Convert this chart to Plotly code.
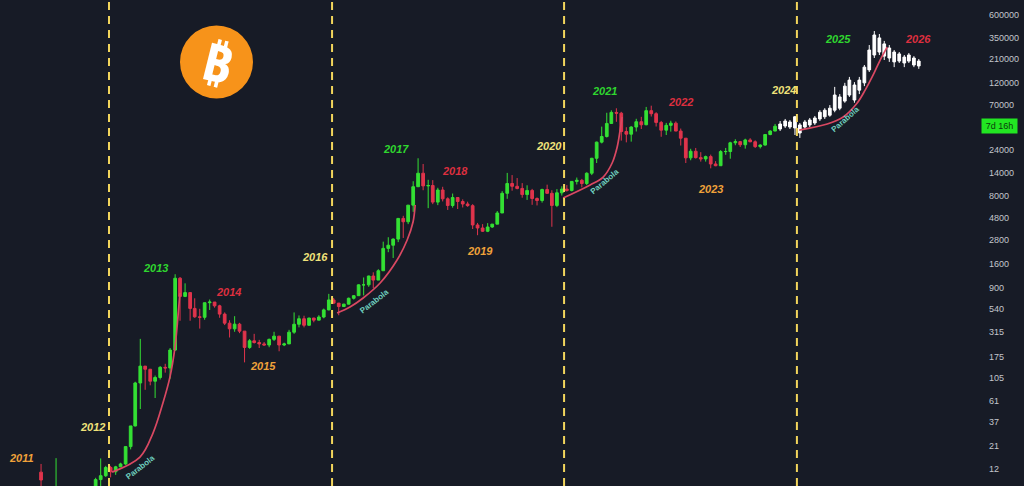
import numpy as np
import pandas as pd
import plotly.graph_objects as go

# ---------------- data ----------------
# sparse early candles (2011)
early_dates = ["2011-08-15", "2011-11-15"]
early_open = [11.1, 5.0]
early_high = [13.5, 15.5]
early_low = [7.0, 4.0]
early_close = [9.2, 7.0]

# monthly candles from 2012-06 to 2023-12
monthly_start = "2012-06-01"
open_ = [
    5.3, 6.7, 9.3, 10.2, 12.4, 11.2, 12.6,
    13.5, 20.4, 33.4, 93, 139, 129, 97, 106, 135, 133, 204, 1129,
    732, 802, 550, 450, 445, 630, 640, 585, 480, 387, 338, 378,
    320, 217, 254, 244, 236, 230, 263, 284, 230, 236, 312, 377,
    430, 368, 437, 416, 448, 531, 673, 624, 575, 609, 700, 745,
    964, 965, 1190, 1080, 1350, 2300, 2480, 2870, 4700, 4340, 6450, 10000,
    13800, 10200, 10300, 6930, 9250, 7500, 6390, 7730, 7030, 6630, 6370, 4020,
    3740, 3460, 3830, 4100, 5350, 8550, 10800, 10100, 9600, 8300, 9150, 7550,
    7200, 9350, 8550, 6400, 8650, 9450, 9150, 11350, 11650, 10800, 13800, 19700,
    28950, 33100, 45200, 58800, 57700, 37300, 35000, 41500, 47100, 43800, 61300, 57000,
    46300, 38500, 43200, 45500, 37700, 31800, 19900, 23300, 20000, 19400, 20500, 17200,
    16500, 23100, 23150, 28500, 29300, 27200, 30500, 29200, 26000, 27000, 34700, 37700,
]
high = [
    6.9, 9.7, 15.4, 12.9, 12.9, 12.9, 13.9,
    20.4, 33.4, 95.7, 266, 139, 130, 111, 139, 147, 214, 1242, 1163,
    1000, 800, 700, 545, 630, 680, 640, 600, 500, 415, 457, 390,
    320, 265, 300, 260, 247, 268, 315, 285, 243, 330, 500, 465,
    462, 440, 440, 468, 548, 778, 704, 626, 614, 712, 753, 975,
    1150, 1200, 1300, 1400, 2700, 3000, 2920, 4750, 5000, 6450, 11400, 19700,
    17200, 11800, 11700, 9750, 9990, 7770, 8500, 7760, 7400, 7000, 6600, 4220,
    4100, 4200, 4120, 5600, 9000, 13900, 13200, 12300, 10900, 10350, 9500, 7750,
    9550, 10500, 9200, 9450, 10100, 10400, 11450, 12450, 12050, 14100, 19900, 29300,
    41900, 58300, 61800, 64900, 59600, 41300, 42300, 50500, 52900, 67000, 69000, 59100,
    48000, 45800, 48200, 47400, 40000, 31900, 24700, 25200, 22800, 21000, 21500, 18400,
    23900, 25200, 29200, 31000, 29800, 31400, 31800, 30200, 27500, 35000, 38400, 44700,
]
low = [
    5.2, 6.5, 7.1, 9.9, 9.8, 10.4, 12.5,
    13.2, 19.1, 33.0, 50, 79, 88, 65, 101, 119, 103, 200, 410,
    720, 410, 440, 340, 420, 530, 560, 440, 370, 275, 315, 305,
    152, 210, 238, 214, 227, 218, 253, 198, 224, 236, 300, 350,
    350, 365, 395, 415, 435, 525, 610, 467, 570, 605, 680, 740,
    750, 920, 890, 1080, 1350, 2100, 1830, 2670, 2950, 4100, 5500, 10700,
    9200, 6000, 6600, 6450, 7040, 5750, 6070, 5880, 6100, 6200, 3650, 3150,
    3400, 3390, 3750, 4100, 5350, 7500, 9100, 9400, 7700, 7300, 6500, 6400,
    6850, 8450, 3850, 6150, 8100, 8900, 8950, 10550, 9850, 10400, 13200, 17600,
    28100, 32300, 45000, 47000, 30000, 28800, 29300, 37300, 39600, 43300, 53300, 42000,
    32900, 34300, 37200, 37600, 26700, 17600, 18800, 19600, 18200, 18200, 15500, 16300,
    16500, 21400, 19500, 26900, 25800, 24800, 28900, 25200, 24900, 26600, 34100, 37600,
]
close = [
    6.7, 9.3, 10.2, 12.4, 11.2, 12.6, 13.5,
    20.4, 33.4, 93, 139, 129, 97, 106, 135, 133, 204, 1129, 732,
    802, 550, 450, 445, 630, 640, 585, 480, 387, 338, 378, 320,
    217, 254, 244, 236, 230, 263, 284, 230, 236, 312, 377, 430,
    368, 437, 416, 448, 531, 673, 624, 575, 609, 700, 745, 964,
    965, 1190, 1080, 1350, 2300, 2480, 2870, 4700, 4340, 6450, 10000, 13800,
    10200, 10300, 6930, 9250, 7500, 6390, 7730, 7030, 6630, 6370, 4020, 3740,
    3460, 3830, 4100, 5350, 8550, 10800, 10100, 9600, 8300, 9150, 7550, 7200,
    9350, 8550, 6400, 8650, 9450, 9150, 11350, 11650, 10800, 13800, 19700, 28950,
    33100, 45200, 58800, 57700, 37300, 35000, 41500, 47100, 43800, 61300, 57000, 46300,
    38500, 43200, 45500, 37700, 31800, 19900, 23300, 20000, 19400, 20500, 17200, 16500,
    23100, 23150, 28500, 29300, 27200, 30500, 29200, 26000, 27000, 34700, 37700, 42300,
]

# projected (white) monthly candles 2024-01 .. 2026-05
proj_start = "2024-01-01"
proj_open = [39600, 42500, 41500, 40600, 36000, 41500, 43600, 45700, 50300, 53000,
             55000, 62000, 65000, 77000, 89000, 79000, 100000, 119000, 162000, 231000,
             248000, 225000, 215000, 196000, 200000, 191000, 200000, 182000, 178000]
proj_close = [44600, 47900, 46800, 53000, 43600, 46800, 49100, 51500, 59000, 62000,
              65000, 89000, 85000, 110000, 127000, 113000, 127000, 173000, 260000, 372000,
              347000, 301000, 273000, 248000, 237000, 220000, 231000, 215000, 200000]
proj_high = [47900, 50300, 49100, 54000, 45700, 49100, 51500, 54000, 62000, 65000,
             70000, 108000, 91000, 119000, 137000, 121000, 137000, 182000, 293000, 409000,
             381000, 323000, 293000, 260000, 248000, 231000, 242000, 225000, 210000]
proj_low = [37800, 40600, 39600, 34300, 32000, 39600, 41500, 43600, 47900, 50300,
            53000, 59000, 62000, 74000, 85000, 74000, 91000, 110000, 154000, 215000,
            231000, 205000, 196000, 173000, 191000, 173000, 191000, 173000, 166000]

# cycle (halving) markers
halving_lines = ["2012-10-05", "2016-07-05", "2020-05-29", "2024-04-27"]

# pre-halving consolidation boxes
box_start = ["2012-06-29", "2015-12-21", "2020-01-09", "2023-12-14"]
box_end = ["2012-10-05", "2016-05-11", "2020-04-28", "2024-04-17"]
box_low = [8.4, 345, 6800, 32000]
box_high = [14.2, 518, 11200, 51500]

# parabolic support curves
parabola_dates = [
    ["2012-10-24", "2013-04-13", "2013-07-02", "2013-09-01", "2013-10-14", "2013-11-14", "2013-12-02", "2013-12-14"],
    ["2016-08-05", "2016-10-23", "2017-01-12", "2017-04-26", "2017-08-08", "2017-10-09", "2017-11-14", "2017-11-27"],
    ["2020-05-23", "2020-11-05", "2021-01-24", "2021-03-20", "2021-04-20", "2021-05-08", "2021-05-20"],
    ["2024-05-11", "2024-10-30", "2025-02-05", "2025-05-02", "2025-06-20", "2025-08-08", "2025-09-20", "2025-11-02"],
]
parabola_prices = [
    [11.1, 15.9, 28.2, 57.7, 107, 219, 448, 794],
    [493, 569, 705, 1007, 1742, 2810, 4315, 6470],
    [7640, 10420, 12600, 17600, 25800, 38600, 52700],
    [38600, 44600, 52700, 73600, 100000, 143500, 205000, 279000],
]

# labels
year_labels = ["2011", "2012", "2013", "2014", "2015", "2016", "2017", "2018",
               "2019", "2020", "2021", "2022", "2023", "2024", "2025", "2026"]
tick_vals = [12, 21, 37, 61, 105, 175, 315, 540, 900, 1600, 2800, 4800, 8000,
             14000, 24000, 70000, 120000, 210000, 350000, 600000]
tick_text = [str(v) for v in tick_vals]

# ---------------- style / layout ----------------
W, H = 1024, 486
PLOT_W = 975
BG = "#171b26"
UP = "#34e034"
DOWN = "#e0344c"
ORANGE = "#f0a23a"
YELLOW = "#f0e27a"
GREEN = "#2fd62f"
RED = "#dd2f3f"
year_colors = [ORANGE, YELLOW, GREEN, RED] * 4
year_pos = [(21, 458), (92, 427), (155, 268), (228, 292), (263, 366), (315, 257),
            (396, 149), (455, 171), (480, 251), (549, 146), (604, 91), (680, 102),
            (710, 189), (783, 90), (838, 39), (918, 39)]
parabola_label_pos = [(140, 467, -38), (374, 301, -38), (605, 182, -40), (845, 119, -42)]


def px(x):
    return x / PLOT_W


def py(y):
    return 1 - y / H


monthly_dates = pd.date_range(monthly_start, periods=len(close), freq="MS") + pd.Timedelta(days=14)
hist_dates = list(pd.to_datetime(early_dates)) + list(monthly_dates)
proj_dates = pd.date_range(proj_start, periods=len(proj_close), freq="MS") + pd.Timedelta(days=14)

fig = go.Figure()

fig.add_trace(go.Candlestick(
    x=hist_dates,
    open=early_open + open_, high=early_high + high,
    low=early_low + low, close=early_close + close,
    increasing=dict(line=dict(color=UP, width=1), fillcolor=UP),
    decreasing=dict(line=dict(color=DOWN, width=1), fillcolor=DOWN),
    whiskerwidth=0, showlegend=False, hoverinfo="skip",
))
fig.add_trace(go.Candlestick(
    x=proj_dates, open=proj_open, high=proj_high, low=proj_low, close=proj_close,
    increasing=dict(line=dict(color="#ffffff", width=1), fillcolor="#ffffff"),
    decreasing=dict(line=dict(color="#ffffff", width=1), fillcolor="#ffffff"),
    whiskerwidth=0, showlegend=False, hoverinfo="skip",
))

for d, p in zip(parabola_dates, parabola_prices):
    fig.add_trace(go.Scatter(
        x=d, y=p, mode="lines", line=dict(color="#d94862", width=1.7, shape="spline", smoothing=1.0),
        showlegend=False, hoverinfo="skip",
    ))

shapes = []
for d in halving_lines:
    shapes.append(dict(type="line", xref="x", yref="paper", x0=d, x1=d, y0=0, y1=1,
                       line=dict(color="#f2d55c", width=2, dash="8px,6px"), layer="above"))
for x0, x1, lo, hi in zip(box_start, box_end, box_low, box_high):
    shapes.append(dict(type="rect", xref="x", yref="y", x0=x0, x1=x1,
                       y0=np.log10(lo), y1=np.log10(hi),
                       line=dict(color="#c27a3e", width=1), fillcolor="rgba(190,110,50,0.18)",
                       layer="above"))
# bitcoin logo disc
shapes.append(dict(type="circle", xref="paper", yref="paper", xsizemode="pixel", ysizemode="pixel",
                   xanchor=px(216.5), yanchor=py(62), x0=-36.5, x1=36.5, y0=-36.5, y1=36.5,
                   fillcolor="#f7931a", line=dict(width=0)))

annotations = []
for txt, col, (x, y) in zip(year_labels, year_colors, year_pos):
    annotations.append(dict(text=f"<b><i>{txt}</i></b>", x=px(x), y=py(y), xref="paper", yref="paper",
                            xanchor="center", yanchor="middle", showarrow=False,
                            font=dict(family="Liberation Sans", size=11, color=col)))
for x, y, ang in parabola_label_pos:
    annotations.append(dict(text="<b>Parabola</b>", x=px(x), y=py(y), xref="paper", yref="paper",
                            xanchor="center", yanchor="middle", showarrow=False, textangle=ang,
                            font=dict(family="Liberation Sans", size=8, color="#6fcfbf")))
annotations.append(dict(text="<b>₿</b>", x=px(218), y=py(62), xref="paper", yref="paper",
                        xanchor="center", yanchor="middle", showarrow=False, textangle=14,
                        font=dict(family="Noto Sans", size=52, color="#ffffff")))
annotations.append(dict(text="7d 16h", x=px(999.5), y=py(126), xref="paper", yref="paper",
                        xanchor="center", yanchor="middle",
                        showarrow=False, bgcolor="#22e622", width=33, height=12, borderpad=1,
                        font=dict(family="Liberation Sans", size=9, color="#0b3d0b")))

fig.update_layout(
    width=W, height=H,
    margin=dict(l=0, r=W - PLOT_W, t=0, b=0),
    paper_bgcolor=BG, plot_bgcolor=BG,
    hovermode=False,
    boxgap=0.15,
    shapes=shapes, annotations=annotations,
    xaxis=dict(type="date", range=["2010-12-06", "2027-04-25"], visible=False,
               rangeslider=dict(visible=False), showgrid=False, zeroline=False),
    yaxis=dict(type="log", side="right", range=[0.902, 5.933], tickvals=tick_vals,
               ticktext=tick_text, showgrid=False, zeroline=False, showline=False,
               ticks="", ticklabelstandoff=13,
               tickfont=dict(family="Liberation Sans", size=9, color="#c3c6cc")),
)

fig.write_html(
    "out.html",
    config={"displayModeBar": False},
    post_script="document.body.style.margin='0';document.body.style.overflow='hidden';"
                "document.body.style.background='" + BG + "';",
)
